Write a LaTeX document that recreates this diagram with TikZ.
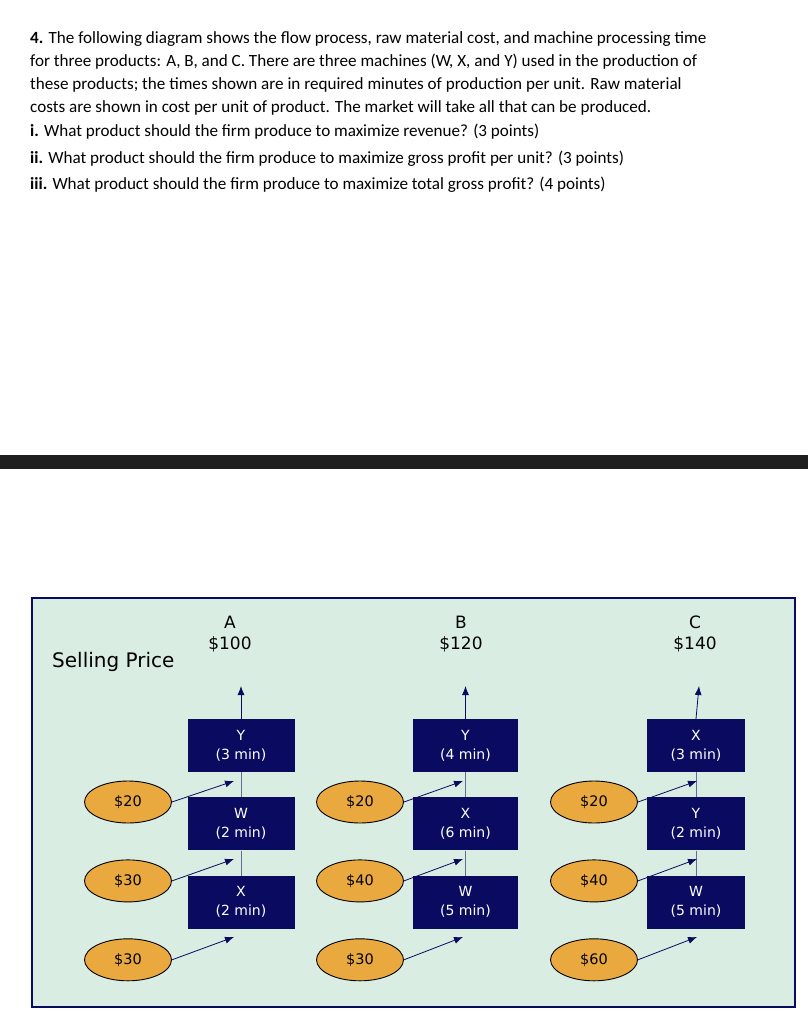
\documentclass[tikz,border=0pt]{standalone}
\usepackage{fontspec}
\setmainfont{Carlito}
\newfontfamily\verdana{DejaVu Sans}
\usetikzlibrary{positioning,shapes.geometric,arrows.meta}

\definecolor{mint}{RGB}{217,237,226}
\definecolor{navy}{RGB}{10,10,96}
\definecolor{gold}{RGB}{233,169,62}
\definecolor{linkgray}{RGB}{96,110,150}
\definecolor{barblack}{RGB}{31,31,31}

\begin{document}
\begin{tikzpicture}[x=1pt,y=-1pt,node distance=25pt,
  machine/.style={rectangle,fill=navy,text=white,minimum height=53pt,align=center,inner sep=0pt,font=\verdana\fontsize{14}{19}\selectfont},
  cost/.style={ellipse,draw=black,line width=0.9pt,fill=gold,minimum width=87pt,minimum height=42pt,inner sep=0pt,font=\verdana\fontsize{14.5}{17}\selectfont},
  feed/.style={draw=navy,line width=0.8pt,-{Latex[length=9pt,width=7pt]}},
  link/.style={draw=linkgray,line width=1pt},
  product/.style={align=center,font=\verdana\fontsize{17}{21}\selectfont},
  qline/.style={anchor=base west,inner sep=0pt,font=\fontsize{17.1}{20}\selectfont}]

  \useasboundingbox (0,0) rectangle (808,1024);
  \fill[white] (0,0) rectangle (808,1024);

  % The question, one node per printed line.
  \node[qline] (q1) at (30,44) {\textbf{4.} The following diagram shows the flow process, raw material cost, and machine processing time};
  \node[qline] (q2) at (30,67) {for three products: A, B, and C. There are three machines (W, X, and Y) used in the production of};
  \node[qline] (q3) at (30,90) {these products; the times shown are in required minutes of production per unit. Raw material};
  \node[qline] (q4) at (30,113) {costs are shown in cost per unit of product. The market will take all that can be produced.};
  \node[qline] (q5) at (30,137) {\textbf{i.} What product should the firm produce to maximize revenue? (3 points)};
  \node[qline] (q6) at (30,164) {\textbf{ii.} What product should the firm produce to maximize gross profit per unit? (3 points)};
  \node[qline] (q7) at (30,190) {\textbf{iii.} What product should the firm produce to maximize total gross profit? (4 points)};

  % Dark separator and the diagram panel.
  \fill[barblack] (0,455) rectangle (808,469);
  \draw[fill=mint,draw=navy,line width=1.2pt] (32,598) rectangle (795,1007);

  \node[anchor=base west,inner sep=0pt,font=\verdana\fontsize{20}{23}\selectfont] (sell) at (52,667) {Selling Price};

  % Product A: machines Y, W, X and their raw material costs.
  \node[product] (prodA) at (230,634) {A\\\$100};
  \node[machine,minimum width=107pt] (a1) at (241,745.5) {Y\\(3 min)};
  \node[machine,minimum width=107pt] (a2) [below=of a1] {W\\(2 min)};
  \node[machine,minimum width=107pt] (a3) [below=of a2] {X\\(2 min)};
  \node[cost] (ca1) at (128,802) {\$20};
  \node[cost] (ca2) [below=36pt of ca1] {\$30};
  \node[cost] (ca3) [below=36pt of ca2] {\$30};
  \coordinate (topA) at (241,686);
  \coordinate (ta1) at (234,781);
  \coordinate (ta2) at (234,859);
  \coordinate (ta3) at (234,937);

  % Product B: machines Y, X, W.
  \node[product] (prodB) at (461,634) {B\\\$120};
  \node[machine,minimum width=105pt] (b1) at (465.5,745.5) {Y\\(4 min)};
  \node[machine,minimum width=105pt] (b2) [below=of b1] {X\\(6 min)};
  \node[machine,minimum width=105pt] (b3) [below=of b2] {W\\(5 min)};
  \node[cost] (cb1) at (360,802) {\$20};
  \node[cost] (cb2) [below=36pt of cb1] {\$40};
  \node[cost] (cb3) [below=36pt of cb2] {\$30};
  \coordinate (topB) at (465.5,686);
  \coordinate (tb1) at (463,781);
  \coordinate (tb2) at (463,859);
  \coordinate (tb3) at (463,937);

  % Product C: machines X, Y, W.
  \node[product] (prodC) at (695,634) {C\\\$140};
  \node[machine,minimum width=98pt] (c1) at (696,745.5) {X\\(3 min)};
  \node[machine,minimum width=98pt] (c2) [below=of c1] {Y\\(2 min)};
  \node[machine,minimum width=98pt] (c3) [below=of c2] {W\\(5 min)};
  \node[cost] (cc1) at (594,802) {\$20};
  \node[cost] (cc2) [below=36pt of cc1] {\$40};
  \node[cost] (cc3) [below=36pt of cc2] {\$60};
  \coordinate (topC) at (699,686);
  \coordinate (tc1) at (697,781);
  \coordinate (tc2) at (697,859);
  \coordinate (tc3) at (697,937);

  % Links between machines, then the feeds and the outputs.
  \draw[link] (a1) -- (a2) (a2) -- (a3);
  \draw[link] (b1) -- (b2) (b2) -- (b3);
  \draw[link] (c1) -- (c2) (c2) -- (c3);
  \draw[feed] (a1) -- (topA);
  \draw[feed] (b1) -- (topB);
  \draw[feed] (c1.north) -- (topC);
  \draw[feed] (ca1.east) -- (ta1);
  \draw[feed] (ca2.east) -- (ta2);
  \draw[feed] (ca3.east) -- (ta3);
  \draw[feed] (cb1.east) -- (tb1);
  \draw[feed] (cb2.east) -- (tb2);
  \draw[feed] (cb3.east) -- (tb3);
  \draw[feed] (cc1.east) -- (tc1);
  \draw[feed] (cc2.east) -- (tc2);
  \draw[feed] (cc3.east) -- (tc3);
\end{tikzpicture}
\end{document}
